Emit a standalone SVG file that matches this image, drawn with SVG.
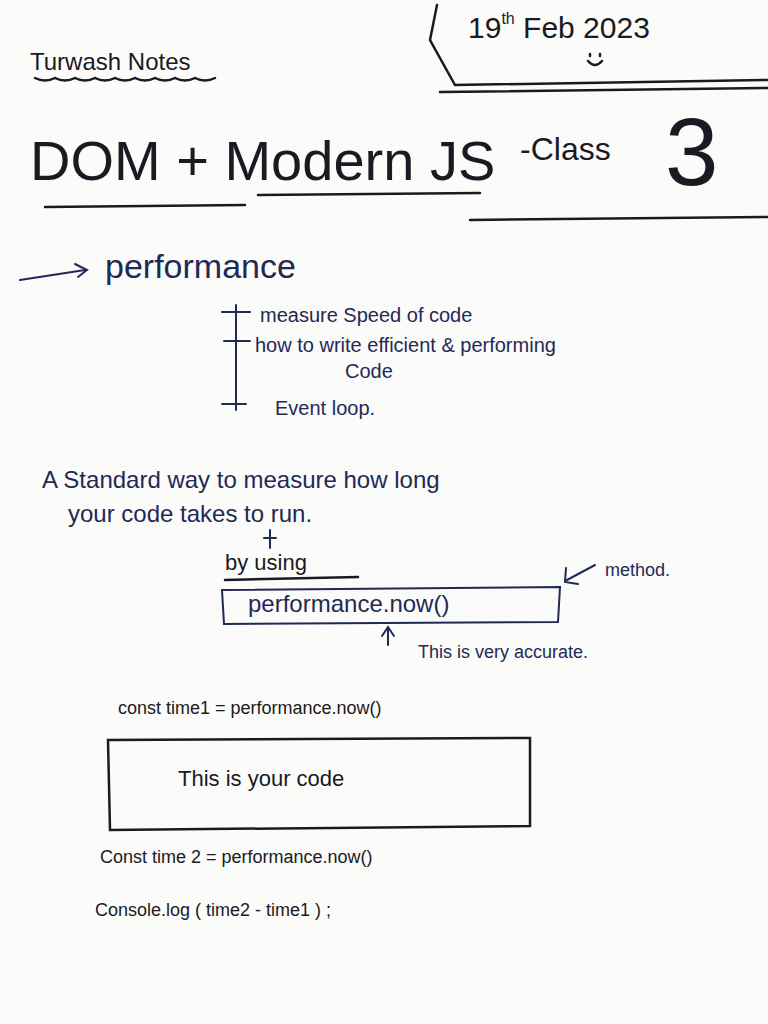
<svg xmlns="http://www.w3.org/2000/svg" width="768" height="1024" viewBox="0 0 768 1024">
<style>
.t{font-family:"Liberation Sans",sans-serif;fill:#1a1a22}
.b{fill:#1f2a55}
.l{stroke:#1a1a22;stroke-width:2.5;fill:none;stroke-linecap:round}
.lb{stroke:#1f2a55;stroke-width:2;fill:none;stroke-linecap:round}
</style>
<rect width="768" height="1024" fill="#fbfbfa"/>
<path class="l" d="M437 5 L430 40 L455 85 L768 80"/>
<path class="l" d="M440 92 L768 88"/>
<text class="t" x="468" y="38" font-size="30">19<tspan font-size="16" dy="-14">th</tspan><tspan dy="14"> Feb 2023</tspan></text>
<path class="l" stroke-width="2" d="M590 54 L590 56 M600 54 L600 56 M588 61 q7 8 14 0"/>
<text class="t" x="30" y="70" font-size="24">Turwash Notes</text>
<path class="l" stroke-width="1.5" d="M35 78 q10 5 20 0 q10 5 20 0 q10 5 20 0 q10 5 20 0 q10 5 20 0 q10 5 20 0 q10 5 20 0 q10 5 20 0 q10 5 20 0"/>
<text class="t" x="30" y="180" font-size="56">DOM + Modern JS</text>
<text class="t" x="520" y="160" font-size="32">-Class</text>
<text class="t" x="665" y="185" font-size="96">3</text>
<path class="l" d="M45 207 L245 205 M258 195 L480 193 M470 220 L768 217"/>
<path class="lb" d="M20 280 L85 270 M75 264 L87 270 L78 277"/>
<text class="t b" x="105" y="278" font-size="34">performance</text>
<path class="lb" d="M236 305 L236 410 M222 312 L250 312 M224 341 L250 341 M222 404 L246 404"/>
<text class="t b" x="260" y="322" font-size="20">measure Speed of code</text>
<text class="t b" x="255" y="352" font-size="20">how to write efficient &amp; performing</text>
<text class="t b" x="345" y="378" font-size="20">Code</text>
<text class="t b" x="275" y="415" font-size="20">Event loop.</text>
<text class="t b" x="42" y="488" font-size="24">A Standard way to measure how long</text>
<text class="t b" x="68" y="522" font-size="24">your code takes to run.</text>
<path class="lb" d="M270 530 L270 548 M264 538 L276 538"/>
<text class="t" x="225" y="570" font-size="22">by using</text>
<path class="l" d="M225 580 L358 577"/>
<path class="lb" d="M222 590 L560 587 L558 622 L224 624 Z"/>
<text class="t b" x="248" y="612" font-size="24">performance.now()</text>
<path class="lb" d="M595 565 L567 580 M566 568 L565 582 L578 584"/>
<text class="t b" x="605" y="576" font-size="18">method.</text>
<path class="lb" d="M388 645 L388 628 M382 636 L388 627 L394 636"/>
<text class="t b" x="418" y="658" font-size="18">This is very accurate.</text>
<text class="t" x="118" y="714" font-size="18">const time1 = performance.now()</text>
<path class="l" d="M108 740 L530 738 L530 826 L110 830 Z"/>
<text class="t" x="178" y="786" font-size="22">This is your code</text>
<text class="t" x="100" y="863" font-size="18">Const time 2 = performance.now()</text>
<text class="t" x="95" y="916" font-size="18">Console.log ( time2 - time1 ) ;</text>
</svg>
